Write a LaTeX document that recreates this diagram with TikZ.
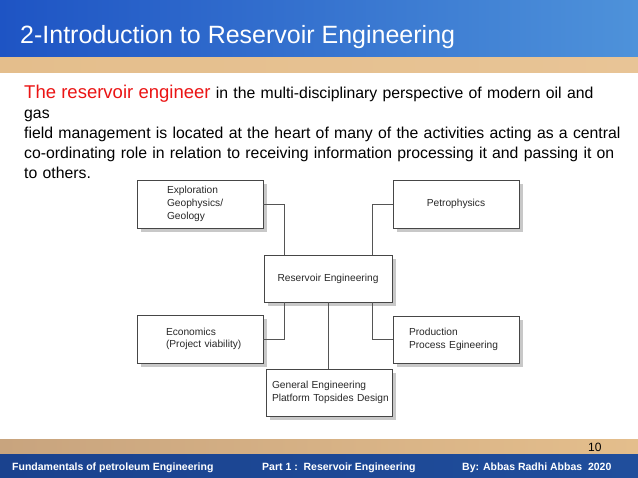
\documentclass[tikz,border=0pt]{standalone}
\usepackage{fontspec}
\setmainfont{Liberation Sans}
\usetikzlibrary{shadows}
\definecolor{titleL}{RGB}{30,84,196}
\definecolor{titleR}{RGB}{78,146,218}
\definecolor{tanA}{RGB}{228,190,140}
\definecolor{tanB}{RGB}{200,164,126}
\definecolor{tanC}{RGB}{232,196,150}
\definecolor{footblue}{RGB}{26,66,142}
\definecolor{footblueR}{RGB}{32,78,156}
\definecolor{boxline}{RGB}{70,70,70}
\definecolor{boxtext}{RGB}{40,40,40}
\definecolor{connline}{RGB}{85,85,85}
\definecolor{shadowgray}{RGB}{200,200,200}
\definecolor{leadred}{RGB}{235,20,20}
\begin{document}
\begin{tikzpicture}[x=1pt,y=-1pt,
  box/.style={draw=boxline, line width=0.8pt, fill=white, minimum width=126pt,
    minimum height=48pt, inner sep=0pt, align=left, text=boxtext,
    font=\fontsize{10.2}{12.7}\selectfont,
    drop shadow={shadow xshift=4pt, shadow yshift=-4pt, fill=shadowgray, opacity=1}},
  conn/.style={draw=connline, line width=0.8pt},
  foot/.style={anchor=base west, inner sep=0pt, text=white, font=\fontsize{10.5}{12}\selectfont\bfseries},
]
\useasboundingbox (0,0) rectangle (638,478);
\fill[white] (0,0) rectangle (638,478);
% title band
\shade[left color=titleL, right color=titleR] (0,0) rectangle (638,58);
\shade[left color=tanA, middle color=tanB, right color=tanC] (0,58) rectangle (638,73);
\node[anchor=base west, inner sep=0pt, text=white, font=\fontsize{25}{30}\selectfont] (title) at (20,44) {2-Introduction to Reservoir Engineering};
% paragraph
\node[anchor=base west, inner sep=0pt, text width=614pt, align=left,
  font=\fontsize{15.8}{19.9}\selectfont] (para) at (24,98.5)
  {{\fontsize{18.5}{19.9}\selectfont\color{leadred}The reservoir engineer} in the multi-disciplinary perspective of modern oil and\\
   gas\\
   field management is located at the heart of many of the activities acting as a central\\
   co-ordinating role in relation to receiving information processing it and passing it on\\
   to others.};
% boxes
\node[box, text width=66pt] (expl) at (200,204) {Exploration\\Geophysics/\\Geology};
\node[box] (petro) at (456,204) {Petrophysics};
\node[box, minimum width=128pt, minimum height=47pt] (res) at (328,278.5) {Reservoir Engineering};
\node[box, text width=68pt] (econ) at (200,339) {Economics\\\mbox{(Project viability)}};
\node[box, text width=94pt, minimum height=47pt] (prod) at (456,339.5) {Production\\Process Egineering};
\node[box, text width=114pt, minimum height=47pt] (gen) at (329,392.5) {General Engineering\\\mbox{Platform Topsides Design}};
% connector ends on the central box
\coordinate (rtl) at ([xshift=21pt]res.north west);
\coordinate (rtr) at ([xshift=-20pt]res.north east);
\coordinate (rbl) at ([xshift=21pt]res.south west);
\coordinate (rbr) at ([xshift=-20pt]res.south east);
\draw[conn] (expl.east) -| (rtl);
\draw[conn] (petro.west) -| (rtr);
\draw[conn] (rbl) |- (econ.east);
\draw[conn] (rbr) |- (prod.west);
\draw[conn] (res.south) -- (res.south |- gen.north);
% footer
\shade[left color=tanB, middle color=tanC, right color=tanA] (0,440) rectangle (638,455);
\shade[left color=footblue, right color=footblueR] (0,455) rectangle (638,478);
\node[anchor=base west, inner sep=0pt, font=\fontsize{12}{14}\selectfont] (pnum) at (588,451.5) {10};
\node[foot] (f1) at (12,471) {Fundamentals of petroleum Engineering};
\node[foot] (f2) at (262,471) {Part 1 :\ \ Reservoir Engineering};
\node[foot] (f3) at (462,471) {By: Abbas Radhi Abbas\ \ 2020};
\end{tikzpicture}
\end{document}
